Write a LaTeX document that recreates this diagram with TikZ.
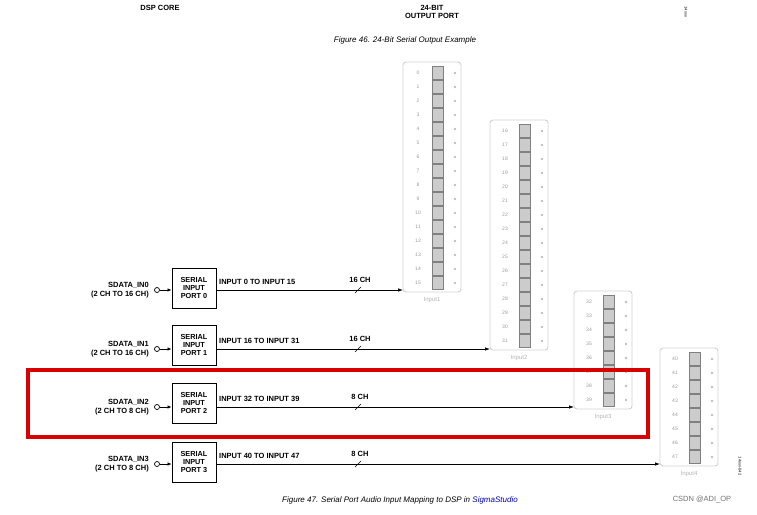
\documentclass[tikz,border=0pt]{standalone}
\usepackage{fontspec}
\setmainfont{Liberation Sans}
\usetikzlibrary{arrows.meta}
\begin{document}
\begin{tikzpicture}[x=1pt,y=-1pt,
  lbl/.style={font=\bfseries\fontsize{7.5}{8.5}\selectfont,inner sep=0pt},
  portbox/.style={draw,line width=0.9pt,minimum width=44pt,minimum height=40pt,align=center,font=\bfseries\fontsize{7.3}{8}\selectfont,inner sep=0pt},
  blk/.style={draw=black!18,rounded corners=3pt,line width=0.9pt},
  slot/.style={draw=black!50,fill=black!20,minimum width=11pt,minimum height=13pt,inner sep=0pt},
  num/.style={font=\fontsize{5}{6}\selectfont,text=black!40,inner sep=0pt},
  blkcap/.style={font=\fontsize{6}{7}\selectfont,text=black!30,inner sep=0pt},
  wire/.style={line width=0.7pt,-{Latex[length=5pt,width=3.5pt]}}]
\useasboundingbox (0,0) rectangle (757,514);
% top fragment
\node[lbl] (dsp) at (160,8) {DSP CORE};
\node[lbl,align=center] (obit) at (432,12) {24-BIT\\OUTPUT PORT};
\node[font=\fontsize{4}{5}\selectfont,rotate=-90] (fid) at (686,12) {14xxx};
\node[font=\itshape\fontsize{8}{9}\selectfont] (f46) at (405,40) {Figure 46. 24-Bit Serial Output Example};
% DSP input blocks
\newcommand{\inblock}[7]{% name, xleft, ytop, first, count, caption, wire y
  \pgfmathsetmacro{\yb}{#3+14*#5+6}
  \draw[blk] (#2,#3) rectangle (#2+58,\yb);
  \foreach \k [evaluate=\k as \n using int(#4+\k)] in {1,...,#5} {
    \pgfmathsetmacro{\yy}{#3+14*\k-3}
    \node[num] at (#2+15,\yy) {\n};
    \node[slot] at (#2+35,\yy) {};
    \fill[black!25] (#2+52,\yy) circle (1.3pt);
  }
  \node[blkcap] (#1cap) at (#2+29,\yb+8) {#6};
  \coordinate (#1) at (#2,#7);
}
\inblock{b0}{403}{62}{-1}{16}{Input1}{290}
\inblock{b1}{490}{120}{15}{16}{Input2}{349}
\inblock{b2}{574}{291}{31}{8}{Input3}{407}
\inblock{b3}{660}{348}{39}{8}{Input4}{464}
% ports
\foreach \i/\y/\w/\r/\ch/\lo/\hi in {0/288/290/16/16/0/15,1/345/349/16/16/16/31,2/403/407/8/8/32/39,3/462/464/8/8/40/47} {
  \node[portbox] (p\i) at (194,\y) {SERIAL\\INPUT\\PORT \i};
  \node[lbl,align=right,anchor=east] (s\i) at (149,\w) {SDATA\_IN\i\\(2 CH TO \r\ CH)};
  \node[draw,circle,inner sep=0pt,minimum size=5pt,line width=0.7pt] (c\i) at (157,\w) {};
  \draw[line width=0.8pt,-{Latex[length=4pt,width=3.5pt]}] (c\i) -- (p\i.west |- c\i);
  \node[lbl,anchor=west] (t\i) at (219,\w-8) {INPUT \lo\ TO INPUT \hi};
  \node[lbl] (n\i) at (360,\w-10) {\ch\ CH};
  \draw[line width=0.6pt] (355,\w+3) -- (361,\w-3);
}
\draw[wire] (p0.east |- b0) -- (b0);
\draw[wire] (p1.east |- b1) -- (b1);
\draw[wire] (p2.east |- b2) -- (b2);
\draw[wire] (p3.east |- b3) -- (b3);
% red highlight
\draw[red!85!black,line width=4.5pt] (28,370) rectangle (648,437);
% caption
\node[font=\itshape\fontsize{8}{9}\selectfont] (f47) at (400,500) {Figure 47. Serial Port Audio Input Mapping to DSP in \textcolor{blue!70!black}{SigmaStudio}};
\node[font=\fontsize{4}{5}\selectfont,rotate=-90] (fid2) at (740,466) {14xxx-042};
\node[font=\fontsize{7.5}{8}\selectfont,text=black!55] (csdn) at (702,500) {CSDN @ADI\_OP};
\end{tikzpicture}
\end{document}
